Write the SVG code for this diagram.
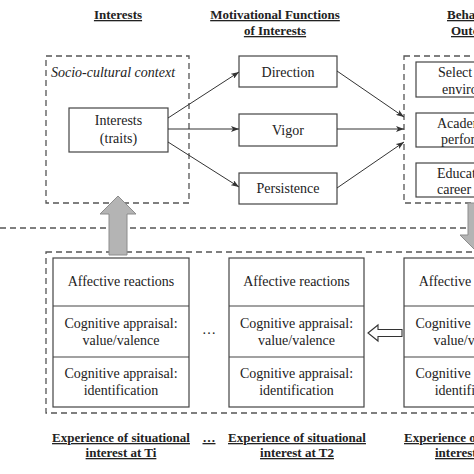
<svg xmlns="http://www.w3.org/2000/svg" width="474" height="474" viewBox="0 0 474 474" font-family="'Liberation Serif', 'Times New Roman', serif">
<defs>
<style>
text{font-family:'Liberation Serif','Times New Roman',serif;font-size:14px;fill:#222}
.t{font-weight:bold;font-size:13px;text-decoration:underline}
.m{text-anchor:middle}
.box{fill:#fff;stroke:#444;stroke-width:1.2}
.dash{fill:none;stroke:#555;stroke-width:1.3;stroke-dasharray:6 4}
.ar{fill:none;stroke:#333;stroke-width:1;marker-end:url(#ah)}
.gray{fill:#b4b4b4;stroke:#8c8c8c;stroke-width:1}
</style>
<marker id="ah" viewBox="0 0 8 6" refX="8" refY="3" markerWidth="8" markerHeight="6" markerUnits="userSpaceOnUse" orient="auto">
<path d="M0,0 L8,3 L0,6 L2,3 z" fill="#333"/>
</marker>
</defs>
<rect width="474" height="474" fill="#fff"/>

<g id="titles">
<text class="t m" x="118" y="19">Interests</text>
<text class="t m" x="275" y="19">Motivational Functions</text>
<text class="t m" x="275" y="35">of Interests</text>
<text class="t" x="447" y="19">Behavioral</text>
<text class="t" x="451" y="35">Outcomes</text>
<text class="t m" x="121" y="442">Experience of situational</text>
<text class="t m" x="121" y="457">interest at Ti</text>
<text class="t m" x="209" y="442">…</text>
<text class="t m" x="297" y="442">Experience of situational</text>
<text class="t m" x="297" y="457">interest at T2</text>
<text class="t" x="404" y="442">Experience of situational</text>
<text class="t" x="435" y="457">interest at T1</text>
</g>

<g id="separator">
<line class="dash" x1="0" y1="228" x2="474" y2="228"/>
</g>

<g id="socio-cultural-context">
<rect class="dash" x="46" y="56" width="143" height="147"/>
<text x="51" y="77" font-style="italic">Socio-cultural context</text>
</g>

<g id="interests-traits">
<rect class="box" x="69" y="108" width="99" height="44"/>
<text class="m" x="118.5" y="125">Interests</text>
<text class="m" x="118.5" y="143">(traits)</text>
</g>

<g id="direction">
<rect class="box" x="239" y="56" width="98" height="31"/>
<text class="m" x="288" y="77">Direction</text>
</g>
<g id="vigor">
<rect class="box" x="239" y="114" width="98" height="32"/>
<text class="m" x="288" y="135">Vigor</text>
</g>
<g id="persistence">
<rect class="box" x="239" y="173" width="98" height="31"/>
<text class="m" x="288" y="193">Persistence</text>
</g>

<g id="behavioral-outcomes">
<rect class="dash" x="404" y="56" width="120" height="147"/>
<rect class="box" x="416" y="62" width="130" height="35"/>
<text x="438" y="77">Select learning</text>
<text x="442" y="94">environments</text>
<rect class="box" x="416" y="113" width="130" height="34"/>
<text x="437" y="128">Academic and</text>
<text x="441" y="144">performance</text>
<rect class="box" x="416" y="163" width="130" height="34"/>
<text x="437" y="178">Educational and</text>
<text x="437" y="194">career choices</text>
</g>

<g id="situational-experiences">
<rect class="dash" x="46" y="252" width="470" height="161"/>
</g>

<g id="experience-ti">
<rect class="box" x="53" y="258" width="136" height="149"/>
<line x1="53" y1="306" x2="189" y2="306" stroke="#444" stroke-width="1.2"/>
<line x1="53" y1="357" x2="189" y2="357" stroke="#444" stroke-width="1.2"/>
<text class="m" x="121" y="286">Affective reactions</text>
<text class="m" x="121" y="328">Cognitive appraisal:</text>
<text class="m" x="121" y="345">value/valence</text>
<text class="m" x="121" y="378">Cognitive appraisal:</text>
<text class="m" x="121" y="395">identification</text>
</g>

<g id="ellipsis">
<text class="m" x="209" y="334">…</text>
</g>

<g id="experience-t2">
<rect class="box" x="229" y="258" width="135" height="149"/>
<line x1="229" y1="306" x2="364" y2="306" stroke="#444" stroke-width="1.2"/>
<line x1="229" y1="357" x2="364" y2="357" stroke="#444" stroke-width="1.2"/>
<text class="m" x="296.5" y="286">Affective reactions</text>
<text class="m" x="296.5" y="328">Cognitive appraisal:</text>
<text class="m" x="296.5" y="345">value/valence</text>
<text class="m" x="296.5" y="378">Cognitive appraisal:</text>
<text class="m" x="296.5" y="395">identification</text>
</g>

<g id="experience-t1">
<rect class="box" x="404" y="258" width="136" height="149"/>
<line x1="404" y1="306" x2="540" y2="306" stroke="#444" stroke-width="1.2"/>
<line x1="404" y1="357" x2="540" y2="357" stroke="#444" stroke-width="1.2"/>
<text class="m" x="472" y="286">Affective reactions</text>
<text class="m" x="472" y="328">Cognitive appraisal:</text>
<text class="m" x="472" y="345">value/valence</text>
<text class="m" x="472" y="378">Cognitive appraisal:</text>
<text class="m" x="472" y="395">identification</text>
</g>

<g id="connectors">
<line class="ar" x1="168" y1="118" x2="239" y2="72"/>
<line class="ar" x1="168" y1="129" x2="239" y2="129"/>
<line class="ar" x1="168" y1="142" x2="239" y2="187"/>
<line class="ar" x1="337" y1="71" x2="404" y2="117"/>
<line class="ar" x1="337" y1="129" x2="404" y2="129"/>
<line class="ar" x1="337" y1="188" x2="404" y2="142"/>
<polygon class="gray" points="109,255 109,214 100,214 118,196 136,214 127,214 127,255"/>
<polygon class="gray" points="468,203 468,235 460,235 478,253 496,235 488,235 488,203"/>
<polygon points="368,333 378,325 378,329.5 402,329.5 402,336.5 378,336.5 378,341" fill="#fff" stroke="#333" stroke-width="1.1"/>
</g>
</svg>
